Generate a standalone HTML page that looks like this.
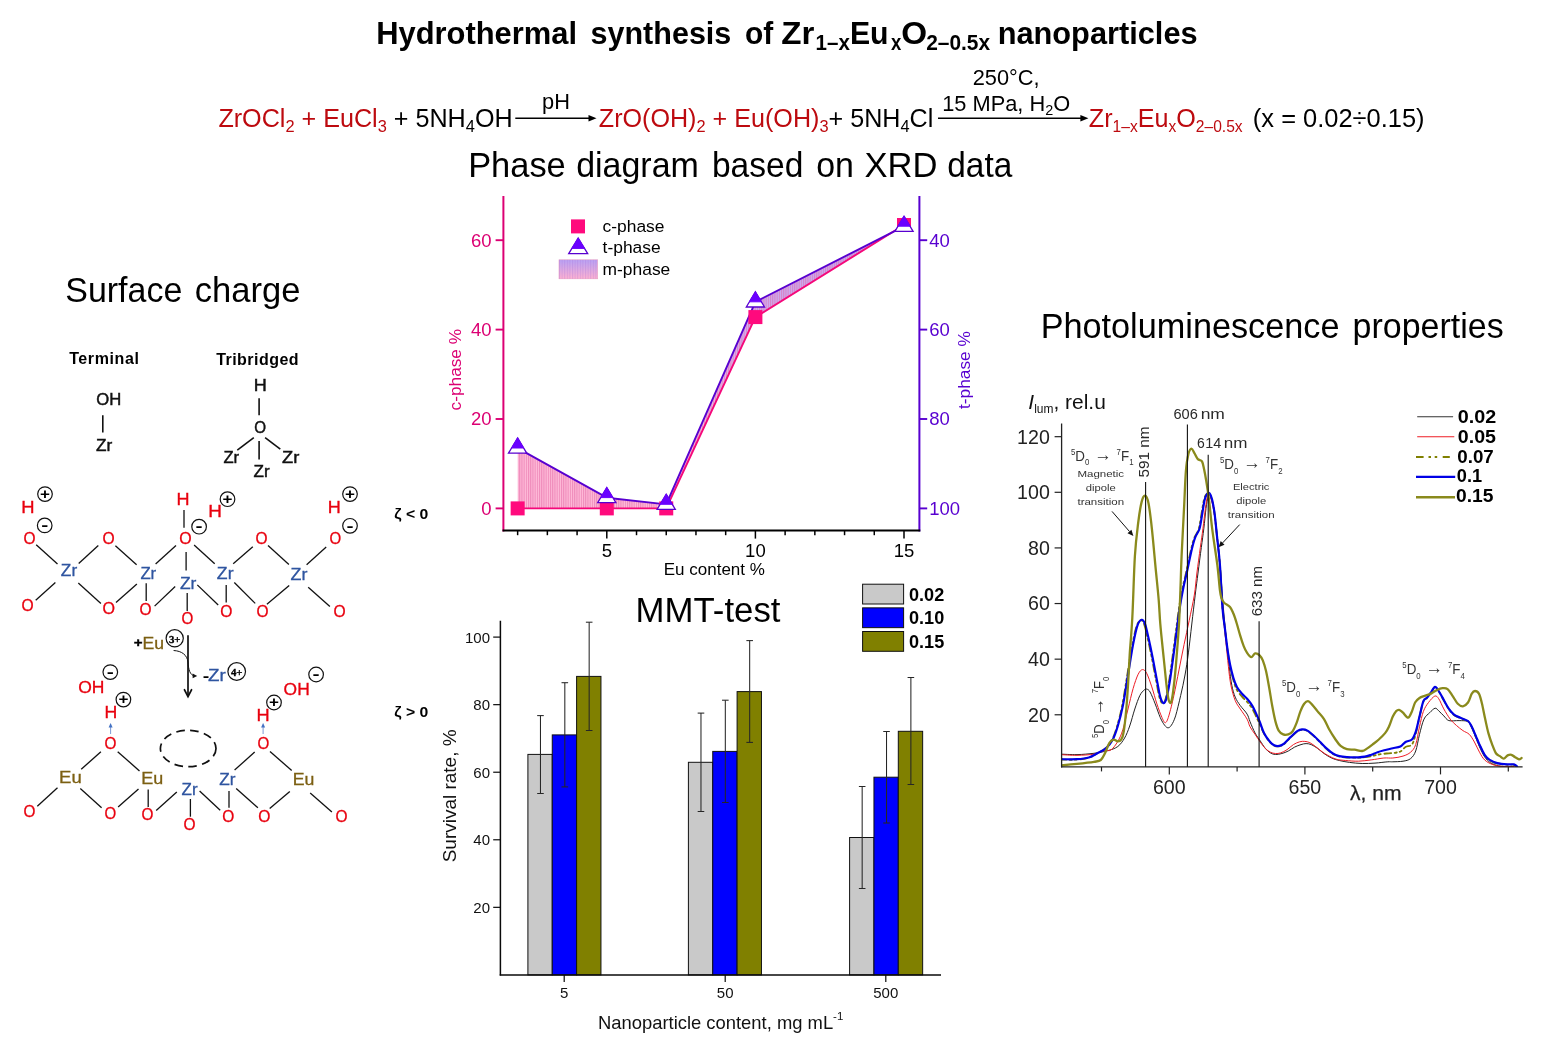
<!DOCTYPE html>
<html lang="en">
<head>
<meta charset="utf-8">
<title>Hydrothermal synthesis of Zr1-xEuxO2-0.5x nanoparticles</title>
<style>
html,body{margin:0;padding:0;background:#fff;}
body{width:1550px;height:1058px;overflow:hidden;}
svg{display:block;font-family:"Liberation Sans", sans-serif;}
svg text{white-space:pre;}
</style>
</head>
<body>
<svg width="1550" height="1058" viewBox="0 0 1550 1058">
<defs>
<linearGradient id="gm" x1="0" y1="0" x2="0" y2="1">
<stop offset="0" stop-color="#b9a3f5"/><stop offset="1" stop-color="#ffb3d1"/>
</linearGradient>
<linearGradient id="gph" x1="0" y1="0" x2="0" y2="1">
<stop offset="0" stop-color="#bca6f5"/><stop offset="0.45" stop-color="#d4b0f0"/><stop offset="0.8" stop-color="#ffbcda"/>
</linearGradient>
<pattern id="hatchL" width="2.2" height="8" patternUnits="userSpaceOnUse">
<line x1="0.6" y1="0" x2="0.6" y2="8" stroke="#e0609f" stroke-width="0.8" opacity="0.75"/>
</pattern>
<pattern id="hatchG" width="2.6" height="8" patternUnits="userSpaceOnUse">
<line x1="0.6" y1="0" x2="0.6" y2="8" stroke="#a06ad0" stroke-width="0.7" opacity="0.45"/>
</pattern>
</defs>
<rect width="1550" height="1058" fill="#fff"/>
<g id="header">
<text x="376.19" y="44.00" font-size="30.6" textLength="200.86" lengthAdjust="spacingAndGlyphs" font-weight="bold">Hydrothermal</text>
<text x="590.53" y="44.00" font-size="30.6" textLength="140.79" lengthAdjust="spacingAndGlyphs" font-weight="bold">synthesis</text>
<text x="745.00" y="44.00" font-size="30.6" textLength="28.27" lengthAdjust="spacingAndGlyphs" font-weight="bold">of</text>
<text x="781.31" y="44.00" font-size="30.6" textLength="33.09" lengthAdjust="spacingAndGlyphs" font-weight="bold">Zr</text>
<text x="815.57" y="50.20" font-size="22.4" textLength="34.31" lengthAdjust="spacingAndGlyphs" font-weight="bold">1–x</text>
<text x="849.94" y="44.00" font-size="30.6" textLength="38.62" lengthAdjust="spacingAndGlyphs" font-weight="bold">Eu</text>
<text x="891.01" y="50.20" font-size="22.4" textLength="10.30" lengthAdjust="spacingAndGlyphs" font-weight="bold">x</text>
<text x="901.27" y="44.00" font-size="30.6" textLength="25.85" lengthAdjust="spacingAndGlyphs" font-weight="bold">O</text>
<text x="926.17" y="50.20" font-size="22.4" textLength="63.91" lengthAdjust="spacingAndGlyphs" font-weight="bold">2–0.5x</text>
<text x="997.70" y="44.00" font-size="30.6" textLength="199.89" lengthAdjust="spacingAndGlyphs" font-weight="bold">nanoparticles</text>
<text x="218.40" y="127.30" font-size="25.15"><tspan fill="#bd0a0f">ZrOCl<tspan font-size="16.4" dy="5">2</tspan><tspan dy="-5" font-size="1">&#8203;</tspan> + EuCl<tspan font-size="16.4" dy="5">3</tspan><tspan dy="-5" font-size="1">&#8203;</tspan></tspan> + 5NH<tspan font-size="16.4" dy="5">4</tspan><tspan dy="-5" font-size="1">&#8203;</tspan>OH</text>
<text x="598.80" y="127.30" font-size="25.15" textLength="334.50" lengthAdjust="spacingAndGlyphs"><tspan fill="#bd0a0f">ZrO(OH)<tspan font-size="16.4" dy="5">2</tspan><tspan dy="-5" font-size="1">&#8203;</tspan> + Eu(OH)<tspan font-size="16.4" dy="5">3</tspan><tspan dy="-5" font-size="1">&#8203;</tspan></tspan>+ 5NH<tspan font-size="16.4" dy="5">4</tspan><tspan dy="-5" font-size="1">&#8203;</tspan>Cl</text>
<text x="1088.80" y="127.30" font-size="25.15"><tspan fill="#bd0a0f">Zr<tspan font-size="15.6" dy="5">1–x</tspan><tspan dy="-5" font-size="1">&#8203;</tspan>Eu<tspan font-size="15.6" dy="5">x</tspan><tspan dy="-5" font-size="1">&#8203;</tspan>O<tspan font-size="15.6" dy="5">2–0.5x</tspan><tspan dy="-5" font-size="1">&#8203;</tspan></tspan></text>
<text x="1252.87" y="127.30" font-size="25.3" textLength="171.71" lengthAdjust="spacingAndGlyphs">(x = 0.02÷0.15)</text>
<line x1="515.30" y1="118.20" x2="592.50" y2="118.20" stroke="#000" stroke-width="1.4" />
<path d="M596.5,118.2 L588.5,115.0 L588.5,121.4 Z" fill="#000"/>
<line x1="938.00" y1="118.20" x2="1084.40" y2="118.20" stroke="#000" stroke-width="1.4" />
<path d="M1088.4,118.2 L1080.4,115.0 L1080.4,121.4 Z" fill="#000"/>
<text x="556.00" y="109.00" font-size="21.8" text-anchor="middle">pH</text>
<text x="1006.20" y="84.60" font-size="21.8" text-anchor="middle">250°C,</text>
<text x="1006.20" y="111.00" font-size="21.8" text-anchor="middle">15 MPa, H<tspan font-size="14.4" dy="4">2</tspan><tspan dy="-4" font-size="1">&#8203;</tspan>O</text>
<text x="468.15" y="177.20" font-size="34.5" textLength="97.62" lengthAdjust="spacingAndGlyphs">Phase</text>
<text x="576.14" y="177.20" font-size="34.5" textLength="122.70" lengthAdjust="spacingAndGlyphs">diagram</text>
<text x="711.92" y="177.20" font-size="34.5" textLength="91.45" lengthAdjust="spacingAndGlyphs">based</text>
<text x="816.24" y="177.20" font-size="34.5" textLength="37.74" lengthAdjust="spacingAndGlyphs">on</text>
<text x="864.54" y="177.20" font-size="34.5" textLength="72.97" lengthAdjust="spacingAndGlyphs">XRD</text>
<text x="947.26" y="177.20" font-size="34.5" textLength="64.98" lengthAdjust="spacingAndGlyphs">data</text>
<text x="65.27" y="302.30" font-size="34.5" textLength="117.00" lengthAdjust="spacingAndGlyphs">Surface</text>
<text x="194.82" y="302.30" font-size="34.5" textLength="105.63" lengthAdjust="spacingAndGlyphs">charge</text>
<text x="1040.66" y="337.60" font-size="34.5" textLength="298.78" lengthAdjust="spacingAndGlyphs">Photoluminescence</text>
<text x="1352.59" y="337.60" font-size="34.5" textLength="151.06" lengthAdjust="spacingAndGlyphs">properties</text>
<text x="635.62" y="622.30" font-size="34.5" textLength="144.81" lengthAdjust="spacingAndGlyphs">MMT-test</text>
</g>
<g id="phase">
<clipPath id="cpm"><polygon points="517.6,448.1 606.8,497.7 666.2,504.4 755.4,301.9 904.0,226.3 904.0,225.0 755.4,317.1 666.2,508.4 606.8,508.4 517.6,508.4"/></clipPath>
<g clip-path="url(#cpm)">
<rect x="517.6" y="200" width="386.4" height="320" fill="#ffbcda"/>
<rect x="686.2" y="200" width="237.8" height="320" fill="url(#gph)"/>
<rect x="517.6" y="200" width="386.4" height="320" fill="url(#hatchL)"/>
</g>
<polyline points="517.6,508.4 606.8,508.4 666.2,508.4 755.4,317.1 904.0,225.0" fill="none" stroke="#f5087a" stroke-width="1.9" stroke-linejoin="round"/>
<polyline points="517.6,448.1 606.8,497.7 666.2,504.4 755.4,301.9 904.0,226.3" fill="none" stroke="#5800d0" stroke-width="1.9" stroke-linejoin="round"/>
<rect x="510.64" y="501.40" width="14.00" height="14.00" fill="#ff0a7d" />
<rect x="599.80" y="501.40" width="14.00" height="14.00" fill="#ff0a7d" />
<rect x="659.24" y="501.40" width="14.00" height="14.00" fill="#ff0a7d" />
<rect x="748.40" y="310.08" width="14.00" height="14.00" fill="#ff0a7d" />
<rect x="897.00" y="218.00" width="14.00" height="14.00" fill="#ff0a7d" />
<path d="M517.6,437.9 L526.7,453.1 L508.5,453.1 Z" fill="#fff" stroke="#5800d0" stroke-width="1.3" stroke-linejoin="miter"/>
<path d="M517.6,437.9 L523.6,448.0 L511.6,448.0 Z" fill="#6a00ff" stroke="#6a00ff" stroke-width="1"/>
<path d="M606.8,487.5 L615.9,502.7 L597.7,502.7 Z" fill="#fff" stroke="#5800d0" stroke-width="1.3" stroke-linejoin="miter"/>
<path d="M606.8,487.5 L612.8,497.6 L600.8,497.6 Z" fill="#6a00ff" stroke="#6a00ff" stroke-width="1"/>
<path d="M666.2,494.2 L675.3,509.4 L657.1,509.4 Z" fill="#fff" stroke="#5800d0" stroke-width="1.3" stroke-linejoin="miter"/>
<path d="M666.2,494.2 L672.2,504.3 L660.2,504.3 Z" fill="#6a00ff" stroke="#6a00ff" stroke-width="1"/>
<path d="M755.4,291.8 L764.5,307.0 L746.3,307.0 Z" fill="#fff" stroke="#5800d0" stroke-width="1.3" stroke-linejoin="miter"/>
<path d="M755.4,291.8 L761.4,301.8 L749.4,301.8 Z" fill="#6a00ff" stroke="#6a00ff" stroke-width="1"/>
<path d="M904.0,216.2 L913.1,231.4 L894.9,231.4 Z" fill="#fff" stroke="#5800d0" stroke-width="1.3" stroke-linejoin="miter"/>
<path d="M904.0,216.2 L910.0,226.2 L898.0,226.2 Z" fill="#6a00ff" stroke="#6a00ff" stroke-width="1"/>
<line x1="503.40" y1="196.00" x2="503.40" y2="531.50" stroke="#dc0073" stroke-width="2" />
<line x1="919.40" y1="196.00" x2="919.40" y2="531.50" stroke="#5800d0" stroke-width="2" />
<line x1="502.50" y1="530.60" x2="920.30" y2="530.60" stroke="#000" stroke-width="2" />
<line x1="495.60" y1="508.40" x2="503.40" y2="508.40" stroke="#dc0073" stroke-width="1.9" />
<text x="491.60" y="514.80" font-size="18.5" fill="#dc0073" text-anchor="end">0</text>
<line x1="495.60" y1="419.00" x2="503.40" y2="419.00" stroke="#dc0073" stroke-width="1.9" />
<text x="491.60" y="425.40" font-size="18.5" fill="#dc0073" text-anchor="end">20</text>
<line x1="495.60" y1="329.60" x2="503.40" y2="329.60" stroke="#dc0073" stroke-width="1.9" />
<text x="491.60" y="336.00" font-size="18.5" fill="#dc0073" text-anchor="end">40</text>
<line x1="495.60" y1="240.20" x2="503.40" y2="240.20" stroke="#dc0073" stroke-width="1.9" />
<text x="491.60" y="246.60" font-size="18.5" fill="#dc0073" text-anchor="end">60</text>
<line x1="919.40" y1="508.40" x2="927.20" y2="508.40" stroke="#5800d0" stroke-width="1.9" />
<text x="929.20" y="514.80" font-size="18.5" fill="#5800d0">100</text>
<line x1="919.40" y1="419.00" x2="927.20" y2="419.00" stroke="#5800d0" stroke-width="1.9" />
<text x="929.20" y="425.40" font-size="18.5" fill="#5800d0">80</text>
<line x1="919.40" y1="329.60" x2="927.20" y2="329.60" stroke="#5800d0" stroke-width="1.9" />
<text x="929.20" y="336.00" font-size="18.5" fill="#5800d0">60</text>
<line x1="919.40" y1="240.20" x2="927.20" y2="240.20" stroke="#5800d0" stroke-width="1.9" />
<text x="929.20" y="246.60" font-size="18.5" fill="#5800d0">40</text>
<line x1="517.64" y1="530.60" x2="517.64" y2="535.20" stroke="#000" stroke-width="1.5" />
<line x1="547.36" y1="530.60" x2="547.36" y2="535.20" stroke="#000" stroke-width="1.5" />
<line x1="577.08" y1="530.60" x2="577.08" y2="535.20" stroke="#000" stroke-width="1.5" />
<line x1="606.80" y1="530.60" x2="606.80" y2="538.60" stroke="#000" stroke-width="1.5" />
<text x="606.80" y="556.80" font-size="18.5" text-anchor="middle">5</text>
<line x1="636.52" y1="530.60" x2="636.52" y2="535.20" stroke="#000" stroke-width="1.5" />
<line x1="666.24" y1="530.60" x2="666.24" y2="535.20" stroke="#000" stroke-width="1.5" />
<line x1="695.96" y1="530.60" x2="695.96" y2="535.20" stroke="#000" stroke-width="1.5" />
<line x1="725.68" y1="530.60" x2="725.68" y2="535.20" stroke="#000" stroke-width="1.5" />
<line x1="755.40" y1="530.60" x2="755.40" y2="538.60" stroke="#000" stroke-width="1.5" />
<text x="755.40" y="556.80" font-size="18.5" text-anchor="middle">10</text>
<line x1="785.12" y1="530.60" x2="785.12" y2="535.20" stroke="#000" stroke-width="1.5" />
<line x1="814.84" y1="530.60" x2="814.84" y2="535.20" stroke="#000" stroke-width="1.5" />
<line x1="844.56" y1="530.60" x2="844.56" y2="535.20" stroke="#000" stroke-width="1.5" />
<line x1="874.28" y1="530.60" x2="874.28" y2="535.20" stroke="#000" stroke-width="1.5" />
<line x1="904.00" y1="530.60" x2="904.00" y2="538.60" stroke="#000" stroke-width="1.5" />
<text x="904.00" y="556.80" font-size="18.5" text-anchor="middle">15</text>
<text x="714.30" y="575.20" font-size="17" text-anchor="middle">Eu content %</text>
<text x="460.01" y="409.70" font-size="17.3" textLength="81.49" lengthAdjust="spacingAndGlyphs" fill="#dc0073" transform="rotate(-90 460.70 409.70)">c-phase %</text>
<text x="969.94" y="408.80" font-size="17.3" textLength="77.92" lengthAdjust="spacingAndGlyphs" fill="#5800d0" transform="rotate(-90 970.20 408.80)">t-phase %</text>
<rect x="571.00" y="219.40" width="14.00" height="14.00" fill="#ff0a7d" />
<path d="M578.2,238.1 L587.7,253.7 L568.7,253.7 Z" fill="#fff" stroke="#5800d0" stroke-width="1.3" stroke-linejoin="miter"/>
<path d="M578.2,238.1 L584.5,248.4 L571.9,248.4 Z" fill="#6a00ff" stroke="#6a00ff" stroke-width="1"/>
<rect x="559.00" y="259.80" width="38.70" height="19.00" fill="url(#gm)" stroke="#e9a0c4" stroke-width="0.6" />
<rect x="559.00" y="259.80" width="38.70" height="19.00" fill="url(#hatchG)" />
<text x="602.60" y="231.80" font-size="17.4">c-phase</text>
<text x="602.60" y="253.30" font-size="17.4">t-phase</text>
<text x="602.60" y="274.80" font-size="17.4">m-phase</text>
</g>
<g id="mmt">
<rect x="527.90" y="754.40" width="24.35" height="220.50" fill="#c9c9c9" stroke="#111" stroke-width="1" />
<rect x="552.25" y="734.90" width="24.35" height="240.00" fill="#0000fe" stroke="#111" stroke-width="1" />
<rect x="576.60" y="676.40" width="24.35" height="298.50" fill="#808000" stroke="#111" stroke-width="1" />
<line x1="540.47" y1="715.60" x2="540.47" y2="793.50" stroke="#262626" stroke-width="1.05" />
<line x1="537.17" y1="715.60" x2="543.77" y2="715.60" stroke="#262626" stroke-width="1.05" />
<line x1="537.17" y1="793.50" x2="543.77" y2="793.50" stroke="#262626" stroke-width="1.05" />
<line x1="564.82" y1="682.70" x2="564.82" y2="786.90" stroke="#262626" stroke-width="1.05" />
<line x1="561.52" y1="682.70" x2="568.12" y2="682.70" stroke="#262626" stroke-width="1.05" />
<line x1="561.52" y1="786.90" x2="568.12" y2="786.90" stroke="#262626" stroke-width="1.05" />
<line x1="589.17" y1="622.20" x2="589.17" y2="730.50" stroke="#262626" stroke-width="1.05" />
<line x1="585.88" y1="622.20" x2="592.47" y2="622.20" stroke="#262626" stroke-width="1.05" />
<line x1="585.88" y1="730.50" x2="592.47" y2="730.50" stroke="#262626" stroke-width="1.05" />
<rect x="688.40" y="762.30" width="24.35" height="212.60" fill="#c9c9c9" stroke="#111" stroke-width="1" />
<rect x="712.75" y="751.40" width="24.35" height="223.50" fill="#0000fe" stroke="#111" stroke-width="1" />
<rect x="737.10" y="691.60" width="24.35" height="283.30" fill="#808000" stroke="#111" stroke-width="1" />
<line x1="700.97" y1="713.10" x2="700.97" y2="811.50" stroke="#262626" stroke-width="1.05" />
<line x1="697.67" y1="713.10" x2="704.27" y2="713.10" stroke="#262626" stroke-width="1.05" />
<line x1="697.67" y1="811.50" x2="704.27" y2="811.50" stroke="#262626" stroke-width="1.05" />
<line x1="725.32" y1="700.20" x2="725.32" y2="802.50" stroke="#262626" stroke-width="1.05" />
<line x1="722.02" y1="700.20" x2="728.62" y2="700.20" stroke="#262626" stroke-width="1.05" />
<line x1="722.02" y1="802.50" x2="728.62" y2="802.50" stroke="#262626" stroke-width="1.05" />
<line x1="749.67" y1="640.60" x2="749.67" y2="742.40" stroke="#262626" stroke-width="1.05" />
<line x1="746.38" y1="640.60" x2="752.97" y2="640.60" stroke="#262626" stroke-width="1.05" />
<line x1="746.38" y1="742.40" x2="752.97" y2="742.40" stroke="#262626" stroke-width="1.05" />
<rect x="849.60" y="837.50" width="24.35" height="137.40" fill="#c9c9c9" stroke="#111" stroke-width="1" />
<rect x="873.95" y="777.20" width="24.35" height="197.70" fill="#0000fe" stroke="#111" stroke-width="1" />
<rect x="898.30" y="731.30" width="24.35" height="243.60" fill="#808000" stroke="#111" stroke-width="1" />
<line x1="862.17" y1="786.50" x2="862.17" y2="888.50" stroke="#262626" stroke-width="1.05" />
<line x1="858.88" y1="786.50" x2="865.47" y2="786.50" stroke="#262626" stroke-width="1.05" />
<line x1="858.88" y1="888.50" x2="865.47" y2="888.50" stroke="#262626" stroke-width="1.05" />
<line x1="886.52" y1="731.50" x2="886.52" y2="823.00" stroke="#262626" stroke-width="1.05" />
<line x1="883.23" y1="731.50" x2="889.82" y2="731.50" stroke="#262626" stroke-width="1.05" />
<line x1="883.23" y1="823.00" x2="889.82" y2="823.00" stroke="#262626" stroke-width="1.05" />
<line x1="910.88" y1="677.50" x2="910.88" y2="784.50" stroke="#262626" stroke-width="1.05" />
<line x1="907.58" y1="677.50" x2="914.17" y2="677.50" stroke="#262626" stroke-width="1.05" />
<line x1="907.58" y1="784.50" x2="914.17" y2="784.50" stroke="#262626" stroke-width="1.05" />
<line x1="500.40" y1="620.80" x2="500.40" y2="975.60" stroke="#0a0a0a" stroke-width="1.5" />
<line x1="499.70" y1="974.90" x2="941.00" y2="974.90" stroke="#0a0a0a" stroke-width="1.5" />
<line x1="493.20" y1="907.34" x2="500.40" y2="907.34" stroke="#0a0a0a" stroke-width="1.2" />
<text x="490.00" y="912.74" font-size="15" fill="#111" text-anchor="end">20</text>
<line x1="493.20" y1="839.78" x2="500.40" y2="839.78" stroke="#0a0a0a" stroke-width="1.2" />
<text x="490.00" y="845.18" font-size="15" fill="#111" text-anchor="end">40</text>
<line x1="493.20" y1="772.22" x2="500.40" y2="772.22" stroke="#0a0a0a" stroke-width="1.2" />
<text x="490.00" y="777.62" font-size="15" fill="#111" text-anchor="end">60</text>
<line x1="493.20" y1="704.66" x2="500.40" y2="704.66" stroke="#0a0a0a" stroke-width="1.2" />
<text x="490.00" y="710.06" font-size="15" fill="#111" text-anchor="end">80</text>
<line x1="493.20" y1="637.10" x2="500.40" y2="637.10" stroke="#0a0a0a" stroke-width="1.2" />
<text x="490.00" y="642.50" font-size="15" fill="#111" text-anchor="end">100</text>
<line x1="564.20" y1="974.90" x2="564.20" y2="981.90" stroke="#0a0a0a" stroke-width="1.2" />
<text x="564.20" y="998.20" font-size="15" fill="#111" text-anchor="middle">5</text>
<line x1="725.20" y1="974.90" x2="725.20" y2="981.90" stroke="#0a0a0a" stroke-width="1.2" />
<text x="725.20" y="998.20" font-size="15" fill="#111" text-anchor="middle">50</text>
<line x1="885.80" y1="974.90" x2="885.80" y2="981.90" stroke="#0a0a0a" stroke-width="1.2" />
<text x="885.80" y="998.20" font-size="15" fill="#111" text-anchor="middle">500</text>
<text x="598.00" y="1029.00" font-size="18.4" fill="#111">Nanoparticle content, mg mL<tspan font-size="11.5" dy="-8.6">-1</tspan></text>
<text x="454.75" y="861.50" font-size="18.4" textLength="132.97" lengthAdjust="spacingAndGlyphs" fill="#111" transform="rotate(-90 455.60 861.50)">Survival rate, %</text>
<rect x="862.60" y="584.20" width="41.00" height="19.80" fill="#c9c9c9" stroke="#111" stroke-width="1" />
<text x="909.00" y="600.50" font-size="17.5" font-weight="bold" textLength="35.20" lengthAdjust="spacingAndGlyphs">0.02</text>
<rect x="862.60" y="607.85" width="41.00" height="19.80" fill="#0000fe" stroke="#111" stroke-width="1" />
<text x="909.00" y="624.15" font-size="17.5" font-weight="bold" textLength="35.20" lengthAdjust="spacingAndGlyphs">0.10</text>
<rect x="862.60" y="631.50" width="41.00" height="19.80" fill="#808000" stroke="#111" stroke-width="1" />
<text x="909.00" y="647.80" font-size="17.5" font-weight="bold" textLength="35.20" lengthAdjust="spacingAndGlyphs">0.15</text>
</g>
<g id="pl">
<clipPath id="cpl"><rect x="1061" y="420" width="465" height="347"/></clipPath>
<g clip-path="url(#cpl)">
<path d="M1060.0,754.1C1062.8,754.2 1071.3,754.7 1077.0,754.6C1082.7,754.5 1088.9,753.9 1094.0,753.3C1099.1,752.6 1103.6,751.8 1107.6,750.7C1111.6,749.6 1115.0,748.6 1117.8,746.5C1120.6,744.4 1122.6,741.4 1124.6,738.0C1126.6,734.6 1128.0,730.8 1129.7,726.0C1131.4,721.2 1133.1,714.1 1134.8,709.0C1136.5,703.9 1138.3,698.6 1139.9,695.4C1141.5,692.2 1143.1,691.0 1144.2,690.0C1145.3,689.0 1145.7,688.8 1146.7,689.1C1147.7,689.4 1148.7,689.5 1150.1,692.0C1151.5,694.5 1153.5,699.6 1155.2,703.9C1156.9,708.2 1158.7,714.0 1160.3,717.6C1161.9,721.2 1163.3,723.5 1164.6,725.2C1165.9,726.9 1166.9,727.8 1168.0,727.8C1169.1,727.8 1170.1,727.2 1171.4,725.2C1172.7,723.2 1174.0,720.9 1175.6,715.9C1177.1,710.9 1179.1,702.2 1180.7,695.4C1182.3,688.6 1183.7,682.1 1185.0,675.0C1186.3,667.9 1187.3,661.4 1188.4,652.9C1189.5,644.4 1190.7,633.6 1191.8,624.0C1192.9,614.4 1194.2,603.6 1195.2,595.1C1196.2,586.6 1197.0,580.9 1198.0,573.0C1199.0,565.1 1200.3,555.0 1201.3,547.6C1202.3,540.2 1203.0,535.3 1203.8,528.8C1204.6,522.3 1205.3,513.7 1206.0,508.4C1206.7,503.1 1207.3,499.1 1208.0,497.0C1208.7,494.9 1209.2,494.5 1210.0,495.5C1210.8,496.5 1211.7,499.2 1212.6,503.0C1213.5,506.8 1214.3,511.7 1215.2,518.0C1216.1,524.3 1216.9,532.8 1217.7,541.0C1218.5,549.2 1219.4,556.0 1220.3,567.0C1221.2,578.0 1222.3,594.7 1223.3,607.0C1224.3,619.3 1225.5,631.1 1226.5,641.0C1227.5,650.9 1228.3,659.1 1229.2,666.5C1230.1,673.9 1230.8,680.1 1231.8,685.2C1232.8,690.3 1233.8,693.7 1235.2,697.1C1236.6,700.5 1238.3,702.8 1240.3,705.6C1242.3,708.4 1245.5,711.4 1247.1,714.1C1248.7,716.8 1248.7,718.4 1250.0,721.6C1251.3,724.8 1253.4,729.9 1255.1,733.1C1256.8,736.3 1258.5,738.2 1260.2,740.8C1261.9,743.3 1263.6,746.4 1265.3,748.4C1267.0,750.4 1268.7,751.9 1270.4,752.9C1272.1,753.9 1273.6,754.4 1275.5,754.5C1277.4,754.6 1279.8,754.1 1281.9,753.5C1284.0,752.9 1286.2,752.1 1288.3,751.0C1290.4,749.9 1292.5,748.2 1294.6,747.1C1296.7,746.0 1299.1,745.2 1301.0,744.6C1302.9,744.0 1304.4,743.6 1306.1,743.6C1307.8,743.6 1309.3,743.8 1311.2,744.6C1313.1,745.4 1315.5,746.9 1317.6,748.4C1319.7,749.9 1321.7,751.9 1324.0,753.5C1326.3,755.1 1329.0,756.8 1331.6,758.0C1334.1,759.2 1336.3,759.8 1339.3,760.5C1342.3,761.2 1345.7,761.9 1349.5,762.4C1353.3,762.9 1358.0,763.4 1362.2,763.5C1366.5,763.6 1370.7,763.4 1375.0,763.1C1379.3,762.8 1384.8,762.0 1387.8,761.8C1390.8,761.6 1390.3,761.9 1392.8,761.8C1395.3,761.7 1400.0,761.7 1403.0,761.2C1406.0,760.7 1408.5,760.3 1410.6,758.6C1412.7,756.9 1414.2,755.0 1415.7,751.0C1417.2,747.0 1418.1,739.7 1419.5,734.4C1420.9,729.1 1422.3,722.7 1424.0,719.1C1425.7,715.5 1427.9,714.5 1429.7,712.7C1431.5,710.9 1433.6,708.5 1435.1,708.2C1436.6,707.9 1437.2,709.5 1438.7,710.8C1440.2,712.1 1442.1,714.3 1443.8,715.9C1445.5,717.5 1446.4,719.8 1448.9,720.6C1451.5,721.4 1455.9,720.4 1459.1,720.6C1462.3,720.8 1465.9,720.4 1468.0,721.6C1470.1,722.8 1470.5,725.4 1471.8,728.0C1473.1,730.6 1474.2,733.9 1475.7,737.5C1477.2,741.1 1479.1,746.2 1480.8,749.7C1482.5,753.2 1484.0,756.3 1485.9,758.6C1487.8,760.9 1489.7,762.4 1492.2,763.7C1494.8,765.0 1497.6,765.8 1501.2,766.3C1504.8,766.8 1511.8,766.5 1513.9,766.5" fill="none" stroke="#222" stroke-width="1" stroke-linejoin="round" stroke-linecap="round" />
<path d="M1060.0,754.6C1062.8,754.7 1071.3,755.4 1077.0,755.3C1082.7,755.2 1089.5,754.9 1094.0,754.1C1098.5,753.3 1101.4,751.4 1104.2,750.7C1107.0,750.0 1108.7,751.5 1111.0,749.9C1113.3,748.3 1115.8,744.8 1117.8,741.4C1119.8,738.0 1121.2,734.9 1122.9,729.5C1124.6,724.1 1126.3,715.8 1128.0,709.0C1129.7,702.2 1131.4,694.4 1133.1,688.6C1134.8,682.8 1136.6,677.4 1138.2,674.2C1139.8,671.0 1141.1,669.8 1142.5,669.6C1143.9,669.5 1145.2,670.4 1146.7,673.3C1148.2,676.2 1150.1,681.8 1151.8,686.9C1153.5,692.0 1155.2,698.8 1156.9,703.9C1158.6,709.0 1160.6,714.5 1162.0,717.6C1163.4,720.7 1164.3,723.0 1165.4,722.7C1166.5,722.4 1167.4,720.5 1168.8,715.9C1170.2,711.3 1172.2,703.1 1173.9,695.4C1175.6,687.7 1177.3,678.4 1179.0,669.9C1180.7,661.4 1182.4,652.6 1184.1,644.4C1185.8,636.2 1187.5,628.8 1189.2,620.6C1190.9,612.4 1193.0,603.0 1194.3,595.1C1195.6,587.2 1195.9,580.9 1196.9,573.0C1197.9,565.1 1199.3,555.0 1200.3,547.6C1201.3,540.2 1202.1,535.3 1202.9,528.8C1203.8,522.3 1204.6,513.8 1205.4,508.4C1206.2,503.0 1206.8,498.6 1207.5,496.5C1208.2,494.4 1208.8,494.4 1209.6,495.5C1210.4,496.6 1211.3,499.2 1212.2,503.0C1213.1,506.8 1214.0,511.7 1214.8,518.0C1215.6,524.3 1216.4,532.8 1217.3,541.0C1218.2,549.2 1219.1,556.0 1219.9,567.0C1220.8,578.0 1221.4,594.7 1222.4,607.0C1223.4,619.3 1224.8,631.1 1225.8,641.0C1226.8,650.9 1227.6,659.1 1228.4,666.5C1229.2,673.9 1229.8,679.5 1230.9,685.2C1232.0,690.9 1233.6,696.5 1235.2,700.5C1236.8,704.5 1238.3,705.9 1240.3,709.0C1242.3,712.1 1245.5,716.2 1247.1,719.2C1248.7,722.2 1248.7,724.2 1250.0,726.7C1251.3,729.2 1253.4,731.9 1255.1,734.4C1256.8,736.9 1258.5,739.7 1260.2,742.0C1261.9,744.3 1263.6,746.7 1265.3,748.4C1267.0,750.1 1268.7,751.4 1270.4,752.2C1272.1,753.1 1273.8,753.4 1275.5,753.5C1277.2,753.6 1278.7,753.5 1280.6,752.9C1282.5,752.3 1284.9,751.1 1287.0,749.7C1289.1,748.3 1291.3,745.9 1293.4,744.6C1295.5,743.3 1297.8,742.3 1299.7,741.8C1301.6,741.3 1303.1,741.2 1304.8,741.4C1306.5,741.5 1308.0,741.8 1309.9,742.7C1311.8,743.7 1314.2,745.5 1316.3,747.1C1318.4,748.7 1320.6,750.7 1322.7,752.2C1324.8,753.7 1326.8,754.9 1329.1,756.1C1331.4,757.3 1333.9,758.6 1336.7,759.3C1339.5,760.0 1342.1,760.2 1345.7,760.5C1349.3,760.8 1354.2,761.3 1358.4,761.2C1362.7,761.1 1367.0,760.4 1371.2,759.9C1375.5,759.4 1380.3,758.3 1383.9,758.0C1387.5,757.7 1389.6,758.3 1392.8,758.0C1396.0,757.7 1400.0,757.1 1403.0,756.1C1406.0,755.1 1408.5,754.1 1410.6,752.2C1412.7,750.3 1414.2,748.9 1415.7,744.6C1417.2,740.4 1418.2,732.2 1419.5,726.7C1420.8,721.2 1421.9,715.4 1423.4,711.4C1424.9,707.4 1426.6,705.0 1428.5,702.5C1430.4,700.0 1433.1,696.7 1434.8,696.1C1436.5,695.5 1437.2,696.6 1438.7,698.7C1440.2,700.8 1441.9,705.5 1443.8,708.9C1445.7,712.3 1448.1,716.3 1450.2,719.1C1452.3,721.9 1454.4,723.6 1456.5,725.5C1458.6,727.4 1460.8,729.1 1462.9,730.6C1465.0,732.1 1467.4,732.5 1469.3,734.4C1471.2,736.3 1472.7,739.0 1474.4,742.0C1476.1,745.0 1477.8,749.2 1479.5,752.2C1481.2,755.2 1482.5,757.9 1484.6,759.9C1486.7,761.9 1489.4,763.3 1492.2,764.4C1495.0,765.5 1497.6,765.9 1501.2,766.3C1504.8,766.6 1511.8,766.5 1513.9,766.5" fill="none" stroke="#ee1c25" stroke-width="1" stroke-linejoin="round" stroke-linecap="round" />
<path d="M1059.2,759.6C1062.0,759.6 1071.4,759.9 1076.2,759.6C1081.0,759.3 1084.7,758.9 1088.1,757.9C1091.5,756.9 1093.8,755.2 1096.6,753.7C1099.4,752.1 1102.6,750.9 1105.1,748.6C1107.7,746.3 1109.9,743.8 1111.9,740.1C1113.9,736.4 1115.3,732.1 1117.0,726.4C1118.7,720.7 1120.4,714.5 1122.1,706.0C1123.8,697.5 1125.5,685.6 1127.2,675.4C1128.9,665.2 1130.7,653.0 1132.3,644.8C1133.9,636.6 1135.2,630.2 1136.6,626.1C1138.0,622.0 1139.5,620.5 1140.8,620.2C1142.1,619.9 1143.1,621.4 1144.2,624.4C1145.3,627.4 1146.3,632.3 1147.6,638.0C1148.9,643.7 1150.5,651.3 1151.9,658.4C1153.3,665.5 1154.8,674.0 1156.1,680.5C1157.4,687.0 1158.4,693.7 1159.5,697.5C1160.6,701.3 1161.6,703.2 1162.6,703.5C1163.6,703.8 1164.5,702.8 1165.5,699.2C1166.5,695.6 1167.8,689.0 1168.9,682.2C1170.0,675.4 1171.2,666.6 1172.3,658.4C1173.4,650.2 1174.6,641.4 1175.7,632.9C1176.8,624.4 1178.0,614.8 1179.1,607.4C1180.2,600.0 1181.4,594.1 1182.5,588.4C1183.6,582.7 1184.5,579.9 1185.9,573.4C1187.3,566.9 1189.6,555.6 1191.0,549.7C1192.4,543.7 1193.1,541.1 1194.4,537.7C1195.7,534.3 1197.6,532.9 1198.7,529.2C1199.8,525.5 1200.4,520.4 1201.2,515.6C1202.0,510.8 1203.0,503.9 1203.8,500.4C1204.6,496.9 1205.4,495.5 1206.3,494.4C1207.2,493.3 1207.9,492.9 1208.9,493.9C1209.9,494.9 1211.2,496.8 1212.2,500.4C1213.2,504.0 1214.0,509.1 1214.8,515.6C1215.6,522.1 1216.4,531.2 1217.3,539.4C1218.2,547.6 1219.1,553.7 1219.9,565.0C1220.8,576.3 1221.6,596.6 1222.4,607.4C1223.2,618.1 1224.2,622.4 1225.0,629.5C1225.8,636.6 1226.7,643.8 1227.5,649.9C1228.3,656.0 1229.1,660.8 1230.1,665.9C1231.1,671.0 1232.4,676.6 1233.5,680.6C1234.6,684.6 1235.5,687.2 1236.9,689.9C1238.3,692.6 1240.3,694.7 1242.0,696.7C1243.7,698.7 1245.4,699.8 1247.1,701.8C1248.8,703.8 1250.8,706.3 1252.2,708.6C1253.6,710.9 1254.4,712.9 1255.6,715.4C1256.8,717.9 1258.2,720.8 1259.6,723.8C1261.0,726.8 1262.4,730.6 1264.0,733.5C1265.6,736.4 1267.4,739.2 1269.1,741.2C1270.8,743.2 1272.5,744.8 1274.2,745.6C1275.9,746.5 1277.6,746.6 1279.3,746.3C1281.0,746.0 1282.5,745.2 1284.4,743.7C1286.3,742.2 1288.7,739.3 1290.8,737.3C1292.9,735.3 1295.3,732.9 1297.2,731.6C1299.1,730.3 1300.6,729.8 1302.3,729.7C1304.0,729.6 1305.5,729.9 1307.4,731.0C1309.3,732.1 1311.7,734.2 1313.8,736.1C1315.9,738.0 1318.1,740.3 1320.2,742.4C1322.3,744.5 1324.4,746.9 1326.5,748.8C1328.6,750.7 1330.8,752.6 1332.9,753.9C1335.0,755.2 1337.0,755.9 1339.3,756.5C1341.6,757.1 1343.7,757.3 1346.9,757.5C1350.1,757.7 1355.4,757.7 1358.4,757.7C1361.4,757.7 1362.7,757.5 1364.8,757.2C1366.9,757.0 1369.1,756.7 1371.2,756.3C1373.3,755.9 1375.1,755.1 1377.6,754.7C1380.1,754.2 1383.9,753.8 1386.4,753.5C1388.9,753.3 1390.5,753.4 1392.8,753.0C1395.1,752.7 1398.3,752.5 1400.4,751.5C1402.5,750.5 1403.6,748.2 1405.5,747.0C1407.4,745.8 1410.2,746.7 1411.9,744.5C1413.6,742.3 1414.4,738.6 1415.7,734.0C1417.0,729.4 1418.2,722.3 1419.5,716.9C1420.8,711.5 1422.1,704.8 1423.4,701.6C1424.7,698.4 1425.9,699.3 1427.2,697.8C1428.5,696.3 1429.7,694.4 1431.0,692.7C1432.3,690.9 1433.8,687.5 1435.1,687.3C1436.4,687.1 1437.2,689.2 1438.7,691.4C1440.2,693.6 1442.1,697.4 1443.8,700.4C1445.5,703.4 1447.2,706.9 1448.9,709.3C1450.6,711.7 1452.1,713.5 1454.0,715.0C1455.9,716.5 1458.1,717.1 1460.4,718.2C1462.7,719.3 1466.1,719.9 1468.0,721.4C1469.9,722.9 1470.5,724.6 1471.8,727.1C1473.1,729.6 1474.4,733.1 1475.7,736.1C1477.0,739.1 1478.0,741.8 1479.5,745.0C1481.0,748.2 1482.9,752.6 1484.6,755.2C1486.3,757.7 1487.6,758.9 1489.7,760.3C1491.8,761.7 1494.3,762.8 1497.3,763.5C1500.3,764.2 1504.8,764.6 1507.6,764.8C1510.4,765.0 1512.3,764.4 1513.9,764.8C1515.5,765.1 1516.6,766.5 1517.1,766.9" fill="none" stroke="#808000" stroke-width="1.8" stroke-linejoin="round" stroke-linecap="round" stroke-dasharray="7 3.5 2 3 2 3.5"/>
<path d="M1060.0,759.2C1062.8,759.2 1072.2,759.5 1077.0,759.2C1081.8,758.9 1085.5,758.5 1088.9,757.5C1092.3,756.5 1094.6,754.8 1097.4,753.3C1100.2,751.8 1103.4,750.5 1105.9,748.2C1108.5,745.9 1110.7,743.4 1112.7,739.7C1114.7,736.0 1116.1,731.7 1117.8,726.0C1119.5,720.3 1121.2,714.1 1122.9,705.6C1124.6,697.1 1126.3,685.2 1128.0,675.0C1129.7,664.8 1131.5,652.6 1133.1,644.4C1134.7,636.2 1136.0,629.8 1137.4,625.7C1138.8,621.6 1140.3,620.1 1141.6,619.8C1142.9,619.5 1143.9,621.0 1145.0,624.0C1146.1,627.0 1147.1,631.9 1148.4,637.6C1149.7,643.3 1151.3,650.9 1152.7,658.0C1154.1,665.1 1155.6,673.6 1156.9,680.1C1158.2,686.6 1159.2,693.3 1160.3,697.1C1161.4,700.9 1162.4,702.8 1163.4,703.1C1164.4,703.4 1165.2,702.3 1166.3,698.8C1167.3,695.2 1168.6,688.6 1169.7,681.8C1170.8,675.0 1172.0,666.2 1173.1,658.0C1174.2,649.8 1175.4,641.0 1176.5,632.5C1177.6,624.0 1178.8,614.4 1179.9,607.0C1181.0,599.6 1182.2,593.7 1183.3,588.0C1184.4,582.3 1185.3,579.5 1186.7,573.0C1188.1,566.5 1190.4,555.2 1191.8,549.3C1193.2,543.3 1193.9,540.7 1195.2,537.3C1196.5,533.9 1198.4,532.5 1199.5,528.8C1200.6,525.1 1201.2,520.0 1202.0,515.2C1202.8,510.4 1203.8,503.5 1204.6,500.0C1205.4,496.5 1206.2,495.1 1207.1,494.0C1207.9,492.9 1208.8,492.5 1209.7,493.5C1210.6,494.5 1211.4,496.4 1212.2,500.0C1213.0,503.6 1214.0,508.7 1214.8,515.2C1215.6,521.7 1216.4,530.8 1217.3,539.0C1218.2,547.2 1219.1,553.3 1219.9,564.6C1220.8,575.9 1221.6,596.2 1222.4,607.0C1223.2,617.8 1224.2,622.0 1225.0,629.1C1225.8,636.2 1226.7,643.5 1227.5,649.5C1228.3,655.5 1229.1,660.0 1230.1,664.8C1231.1,669.6 1232.4,674.7 1233.5,678.4C1234.6,682.1 1235.5,684.3 1236.9,686.9C1238.3,689.5 1240.3,691.7 1242.0,693.7C1243.7,695.7 1245.4,696.8 1247.1,698.8C1248.8,700.8 1250.8,703.3 1252.2,705.6C1253.6,707.9 1254.4,709.8 1255.6,712.4C1256.8,715.0 1258.2,718.0 1259.6,721.5C1261.0,725.0 1262.4,729.9 1264.0,733.1C1265.6,736.3 1267.4,738.8 1269.1,740.8C1270.8,742.8 1272.5,744.4 1274.2,745.2C1275.9,746.1 1277.6,746.2 1279.3,745.9C1281.0,745.6 1282.5,744.8 1284.4,743.3C1286.3,741.8 1288.7,738.9 1290.8,736.9C1292.9,734.9 1295.3,732.5 1297.2,731.2C1299.1,729.9 1300.6,729.4 1302.3,729.3C1304.0,729.2 1305.5,729.5 1307.4,730.6C1309.3,731.7 1311.7,733.8 1313.8,735.7C1315.9,737.6 1318.1,739.9 1320.2,742.0C1322.3,744.1 1324.4,746.5 1326.5,748.4C1328.6,750.3 1330.8,752.2 1332.9,753.5C1335.0,754.8 1337.0,755.5 1339.3,756.1C1341.6,756.7 1343.7,756.9 1346.9,757.1C1350.1,757.3 1355.4,757.4 1358.4,757.3C1361.4,757.2 1362.7,757.1 1364.8,756.7C1366.9,756.3 1369.1,755.5 1371.2,754.8C1373.3,754.0 1375.1,753.1 1377.6,752.2C1380.1,751.4 1383.9,750.4 1386.4,749.7C1388.9,749.0 1390.5,748.7 1392.8,748.2C1395.1,747.7 1398.3,747.5 1400.4,746.5C1402.5,745.5 1403.6,743.2 1405.5,742.0C1407.4,740.8 1410.2,741.2 1411.9,739.5C1413.6,737.8 1414.4,735.6 1415.7,731.8C1417.0,728.0 1418.2,721.6 1419.5,716.5C1420.8,711.4 1422.1,704.4 1423.4,701.2C1424.7,698.0 1425.9,698.9 1427.2,697.4C1428.5,695.9 1429.7,694.0 1431.0,692.3C1432.3,690.5 1433.8,687.1 1435.1,686.9C1436.4,686.7 1437.2,688.8 1438.7,691.0C1440.2,693.2 1442.1,697.0 1443.8,700.0C1445.5,703.0 1447.2,706.5 1448.9,708.9C1450.6,711.3 1452.1,713.1 1454.0,714.6C1455.9,716.1 1458.1,716.7 1460.4,717.8C1462.7,718.9 1466.1,719.5 1468.0,721.0C1469.9,722.5 1470.5,724.2 1471.8,726.7C1473.1,729.2 1474.4,732.7 1475.7,735.7C1477.0,738.7 1478.0,741.4 1479.5,744.6C1481.0,747.8 1482.9,752.2 1484.6,754.8C1486.3,757.3 1487.6,758.5 1489.7,759.9C1491.8,761.3 1494.3,762.4 1497.3,763.1C1500.3,763.9 1504.8,764.2 1507.6,764.4C1510.4,764.6 1512.3,764.0 1513.9,764.4C1515.5,764.8 1516.6,766.1 1517.1,766.5" fill="none" stroke="#0000e6" stroke-width="2.2" stroke-linejoin="round" stroke-linecap="round" />
<path d="M1060.0,765.6C1062.8,765.3 1071.3,764.4 1077.0,763.8C1082.7,763.2 1090.0,762.4 1094.0,761.8C1098.0,761.2 1099.0,761.4 1100.8,760.0C1102.6,758.6 1103.6,756.1 1105.0,753.3C1106.4,750.5 1107.9,745.3 1109.3,743.0C1110.7,740.7 1112.2,740.0 1113.6,739.7C1115.0,739.4 1116.5,741.4 1117.8,741.4C1119.1,741.4 1120.2,741.4 1121.2,739.7C1122.2,738.0 1123.0,736.3 1123.8,731.2C1124.6,726.1 1125.6,716.7 1126.3,709.0C1127.0,701.3 1127.4,694.3 1128.0,685.2C1128.6,676.1 1129.0,665.8 1129.7,654.6C1130.4,643.4 1131.4,634.4 1132.3,618.0C1133.2,601.6 1133.9,572.0 1134.9,556.0C1135.9,540.0 1137.2,531.1 1138.3,522.0C1139.4,512.9 1140.6,506.0 1141.7,501.6C1142.8,497.2 1144.0,495.4 1145.1,495.7C1146.2,496.0 1147.4,497.8 1148.5,503.3C1149.6,508.8 1150.8,518.6 1151.9,528.8C1153.0,539.0 1154.2,552.7 1155.3,564.6C1156.4,576.5 1157.9,590.1 1158.7,600.0C1159.5,609.9 1159.5,614.3 1160.3,624.0C1161.1,633.7 1162.7,648.1 1163.7,658.0C1164.7,667.9 1165.5,676.4 1166.3,683.5C1167.1,690.6 1167.9,697.5 1168.8,700.5C1169.7,703.5 1170.6,703.9 1171.4,701.4C1172.2,698.9 1173.1,692.4 1173.9,685.2C1174.8,678.0 1175.7,668.2 1176.5,658.0C1177.3,647.8 1178.3,636.2 1179.0,624.0C1179.7,611.8 1180.2,596.3 1180.6,585.0C1181.0,573.7 1181.0,569.3 1181.6,556.0C1182.2,542.7 1183.5,519.2 1184.2,505.0C1184.9,490.8 1185.2,479.5 1185.9,471.0C1186.6,462.5 1187.5,457.7 1188.4,454.0C1189.3,450.3 1190.5,448.7 1191.5,448.6C1192.5,448.5 1193.4,451.4 1194.4,453.2C1195.5,454.9 1196.5,457.8 1197.8,459.1C1199.1,460.5 1201.0,459.6 1202.0,461.3C1203.0,463.0 1203.4,466.0 1204.1,469.3C1204.8,472.6 1205.5,476.4 1206.3,481.2C1207.1,486.0 1207.8,490.3 1208.8,498.2C1209.8,506.1 1210.8,517.7 1212.2,528.8C1213.6,539.9 1216.0,554.4 1217.3,564.6C1218.6,574.8 1219.2,584.4 1219.9,590.0C1220.6,595.6 1220.9,596.4 1221.6,598.5C1222.3,600.6 1222.7,601.4 1224.1,602.8C1225.5,604.2 1228.4,605.2 1230.0,607.0C1231.6,608.8 1232.3,611.0 1233.5,613.8C1234.7,616.6 1235.8,620.3 1236.9,624.0C1238.0,627.7 1239.2,632.2 1240.3,635.9C1241.4,639.6 1242.6,643.3 1243.7,646.1C1244.8,648.9 1245.8,651.0 1247.1,652.9C1248.4,654.8 1250.0,657.1 1251.3,657.2C1252.6,657.3 1253.7,653.7 1255.1,653.4C1256.5,653.1 1258.3,654.1 1259.6,655.3C1260.9,656.5 1261.8,657.8 1262.8,660.4C1263.8,663.0 1264.9,666.1 1265.9,670.6C1267.0,675.1 1268.0,681.2 1269.1,687.2C1270.2,693.2 1271.2,700.6 1272.3,706.3C1273.4,712.0 1274.4,717.5 1275.5,721.6C1276.6,725.7 1277.4,728.5 1278.7,730.6C1280.0,732.7 1281.6,733.8 1283.2,734.4C1284.8,735.0 1286.7,734.9 1288.3,734.4C1289.9,733.9 1291.3,733.1 1292.7,731.2C1294.1,729.3 1295.3,726.2 1296.6,722.9C1297.9,719.6 1299.1,714.6 1300.4,711.4C1301.7,708.2 1302.9,705.5 1304.2,703.8C1305.5,702.1 1306.7,701.1 1308.0,701.2C1309.3,701.3 1310.3,702.7 1311.9,704.4C1313.5,706.1 1315.6,708.9 1317.6,711.4C1319.6,713.9 1322.1,716.1 1324.0,719.1C1325.9,722.1 1327.2,725.9 1329.1,729.3C1331.0,732.7 1333.6,736.7 1335.5,739.5C1337.4,742.3 1338.7,744.3 1340.6,745.9C1342.5,747.5 1344.6,748.5 1346.9,749.1C1349.2,749.7 1352.0,749.4 1354.6,749.7C1357.1,750.0 1360.1,751.2 1362.2,751.0C1364.3,750.8 1365.6,749.5 1367.3,748.4C1369.0,747.3 1370.5,746.1 1372.4,744.6C1374.3,743.1 1376.7,741.4 1378.8,739.5C1380.9,737.6 1383.4,735.2 1385.1,733.1C1386.8,731.0 1387.6,729.5 1388.9,726.7C1390.2,723.9 1391.6,719.0 1392.8,716.5C1394.0,714.0 1394.9,712.5 1395.9,711.4C1397.0,710.3 1397.9,709.7 1399.1,709.9C1400.3,710.1 1401.5,711.4 1403.0,712.7C1404.5,714.0 1406.6,717.8 1408.1,717.6C1409.6,717.4 1410.7,713.9 1411.9,711.4C1413.1,708.9 1413.8,704.7 1415.1,702.5C1416.4,700.3 1417.9,699.1 1419.5,698.0C1421.1,696.9 1422.7,696.6 1424.6,695.9C1426.5,695.2 1428.9,694.6 1431.0,693.6C1433.1,692.6 1435.5,690.6 1437.4,689.7C1439.3,688.8 1440.8,688.3 1442.5,688.2C1444.2,688.1 1445.9,687.8 1447.6,689.1C1449.3,690.4 1451.0,693.7 1452.7,696.1C1454.4,698.5 1456.1,702.1 1457.8,703.8C1459.5,705.5 1461.2,706.5 1462.9,706.3C1464.6,706.1 1466.5,704.6 1468.0,702.5C1469.5,700.4 1470.6,695.5 1471.8,693.6C1473.0,691.7 1473.8,691.0 1475.0,691.0C1476.2,691.0 1477.7,691.5 1478.9,693.6C1480.1,695.7 1481.0,699.5 1482.0,703.8C1483.0,708.0 1484.1,714.2 1485.2,719.1C1486.3,724.0 1487.2,728.9 1488.4,733.1C1489.6,737.4 1490.9,741.2 1492.2,744.6C1493.5,748.0 1494.8,751.6 1496.1,753.5C1497.4,755.4 1498.6,755.2 1499.9,756.1C1501.2,757.0 1502.4,758.7 1503.7,758.6C1505.0,758.5 1506.3,756.0 1507.6,755.4C1508.9,754.8 1510.1,754.5 1511.4,754.8C1512.7,755.1 1513.9,756.5 1515.2,757.3C1516.5,758.0 1517.9,759.2 1519.0,759.3C1520.1,759.4 1521.2,758.2 1521.6,758.0" fill="none" stroke="#8a8a1c" stroke-width="2.3" stroke-linejoin="round" stroke-linecap="round" />
</g>
<line x1="1145.60" y1="482.00" x2="1145.60" y2="766.90" stroke="#111" stroke-width="1.1" />
<line x1="1187.40" y1="424.40" x2="1187.40" y2="766.90" stroke="#111" stroke-width="1.1" />
<line x1="1208.20" y1="454.70" x2="1208.20" y2="766.90" stroke="#111" stroke-width="1.1" />
<line x1="1259.10" y1="621.30" x2="1259.10" y2="766.90" stroke="#111" stroke-width="1.1" />
<line x1="1061.60" y1="423.50" x2="1061.60" y2="767.50" stroke="#222" stroke-width="1.3" />
<line x1="1061.00" y1="766.90" x2="1522.60" y2="766.90" stroke="#222" stroke-width="1.3" />
<line x1="1054.60" y1="714.78" x2="1061.60" y2="714.78" stroke="#222" stroke-width="1.2" />
<text x="1049.80" y="721.68" font-size="19.6" fill="#222" text-anchor="end">20</text>
<line x1="1054.60" y1="659.16" x2="1061.60" y2="659.16" stroke="#222" stroke-width="1.2" />
<text x="1049.80" y="666.06" font-size="19.6" fill="#222" text-anchor="end">40</text>
<line x1="1054.60" y1="603.54" x2="1061.60" y2="603.54" stroke="#222" stroke-width="1.2" />
<text x="1049.80" y="610.44" font-size="19.6" fill="#222" text-anchor="end">60</text>
<line x1="1054.60" y1="547.92" x2="1061.60" y2="547.92" stroke="#222" stroke-width="1.2" />
<text x="1049.80" y="554.82" font-size="19.6" fill="#222" text-anchor="end">80</text>
<line x1="1054.60" y1="492.30" x2="1061.60" y2="492.30" stroke="#222" stroke-width="1.2" />
<text x="1049.80" y="499.20" font-size="19.6" fill="#222" text-anchor="end">100</text>
<line x1="1054.60" y1="436.68" x2="1061.60" y2="436.68" stroke="#222" stroke-width="1.2" />
<text x="1049.80" y="443.58" font-size="19.6" fill="#222" text-anchor="end">120</text>
<line x1="1101.50" y1="766.90" x2="1101.50" y2="771.40" stroke="#222" stroke-width="1.2" />
<line x1="1169.30" y1="766.90" x2="1169.30" y2="774.40" stroke="#222" stroke-width="1.2" />
<text x="1169.30" y="793.80" font-size="19.6" fill="#222" text-anchor="middle">600</text>
<line x1="1237.10" y1="766.90" x2="1237.10" y2="771.40" stroke="#222" stroke-width="1.2" />
<line x1="1304.90" y1="766.90" x2="1304.90" y2="774.40" stroke="#222" stroke-width="1.2" />
<text x="1304.90" y="793.80" font-size="19.6" fill="#222" text-anchor="middle">650</text>
<line x1="1372.70" y1="766.90" x2="1372.70" y2="771.40" stroke="#222" stroke-width="1.2" />
<line x1="1440.50" y1="766.90" x2="1440.50" y2="774.40" stroke="#222" stroke-width="1.2" />
<text x="1440.50" y="793.80" font-size="19.6" fill="#222" text-anchor="middle">700</text>
<line x1="1508.30" y1="766.90" x2="1508.30" y2="771.40" stroke="#222" stroke-width="1.2" />
<text x="1349.99" y="799.60" font-size="19.5" textLength="51.58" lengthAdjust="spacingAndGlyphs" fill="#222" stroke="#222" stroke-width="0.25">λ, nm</text>
<text x="1028.30" y="409.30" font-size="21" fill="#111" textLength="77.50" lengthAdjust="spacingAndGlyphs"><tspan font-style="italic">I</tspan><tspan font-size="12" dy="3.5">lum</tspan><tspan dy="-3.5">, rel.u</tspan></text>
<text x="1173.47" y="418.80" font-size="15.5" textLength="24.37" lengthAdjust="spacingAndGlyphs" fill="#2a2a2a">606</text>
<text x="1200.67" y="418.80" font-size="15.5" textLength="24.26" lengthAdjust="spacingAndGlyphs" fill="#2a2a2a">nm</text>
<text x="1197.10" y="447.80" font-size="15.5" textLength="7.77" lengthAdjust="spacingAndGlyphs" fill="#2a2a2a">6</text>
<text x="1205.22" y="447.80" font-size="15.5" textLength="16.05" lengthAdjust="spacingAndGlyphs" fill="#2a2a2a">14</text>
<text x="1223.89" y="447.80" font-size="15.5" textLength="23.70" lengthAdjust="spacingAndGlyphs" fill="#2a2a2a">nm</text>
<text x="1148.59" y="476.80" font-size="15.5" textLength="51.04" lengthAdjust="spacingAndGlyphs" fill="#2a2a2a" transform="rotate(-90 1149.20 476.80)">591 nm</text>
<text x="1261.54" y="615.60" font-size="15.5" textLength="50.47" lengthAdjust="spacingAndGlyphs" fill="#2a2a2a" transform="rotate(-90 1262.30 615.60)">633 nm</text>
<text x="1071.0" y="460.6" font-size="14.5" fill="#333" textLength="62.5" lengthAdjust="spacingAndGlyphs"><tspan font-size="8.5" dy="-6">5</tspan><tspan dy="6">D</tspan><tspan font-size="8.5" dy="4.5">0</tspan><tspan dy="-4.5" font-size="19"> → </tspan><tspan font-size="8.5" dy="-6">7</tspan><tspan dy="6">F</tspan><tspan font-size="8.5" dy="4.5">1</tspan></text>
<text x="1220.0" y="469.0" font-size="14.5" fill="#333" textLength="62.5" lengthAdjust="spacingAndGlyphs"><tspan font-size="8.5" dy="-6">5</tspan><tspan dy="6">D</tspan><tspan font-size="8.5" dy="4.5">0</tspan><tspan dy="-4.5" font-size="19"> → </tspan><tspan font-size="8.5" dy="-6">7</tspan><tspan dy="6">F</tspan><tspan font-size="8.5" dy="4.5">2</tspan></text>
<text x="1282.0" y="692.4" font-size="14.5" fill="#333" textLength="62.5" lengthAdjust="spacingAndGlyphs"><tspan font-size="8.5" dy="-6">5</tspan><tspan dy="6">D</tspan><tspan font-size="8.5" dy="4.5">0</tspan><tspan dy="-4.5" font-size="19"> → </tspan><tspan font-size="8.5" dy="-6">7</tspan><tspan dy="6">F</tspan><tspan font-size="8.5" dy="4.5">3</tspan></text>
<text x="1402.3" y="674.3" font-size="14.5" fill="#333" textLength="62.5" lengthAdjust="spacingAndGlyphs"><tspan font-size="8.5" dy="-6">5</tspan><tspan dy="6">D</tspan><tspan font-size="8.5" dy="4.5">0</tspan><tspan dy="-4.5" font-size="19"> → </tspan><tspan font-size="8.5" dy="-6">7</tspan><tspan dy="6">F</tspan><tspan font-size="8.5" dy="4.5">4</tspan></text>
<text x="1104.3" y="738.0" font-size="14.5" fill="#333" textLength="61.3" lengthAdjust="spacingAndGlyphs" transform="rotate(-90 1104.3 738.0)"><tspan font-size="8.5" dy="-6">5</tspan><tspan dy="6">D</tspan><tspan font-size="8.5" dy="4.5">0</tspan><tspan dy="-4.5" font-size="19"> → </tspan><tspan font-size="8.5" dy="-6">7</tspan><tspan dy="6">F</tspan><tspan font-size="8.5" dy="4.5">0</tspan></text>
<text x="1100.80" y="477.40" font-size="9.8" fill="#333" text-anchor="middle" textLength="46.70" lengthAdjust="spacingAndGlyphs">Magnetic</text>
<text x="1100.80" y="491.30" font-size="9.8" fill="#333" text-anchor="middle" textLength="30.00" lengthAdjust="spacingAndGlyphs">dipole</text>
<text x="1100.80" y="505.20" font-size="9.8" fill="#333" text-anchor="middle" textLength="46.70" lengthAdjust="spacingAndGlyphs">transition</text>
<text x="1251.20" y="490.30" font-size="9.8" fill="#333" text-anchor="middle" textLength="36.50" lengthAdjust="spacingAndGlyphs">Electric</text>
<text x="1251.20" y="504.20" font-size="9.8" fill="#333" text-anchor="middle" textLength="30.00" lengthAdjust="spacingAndGlyphs">dipole</text>
<text x="1251.20" y="518.10" font-size="9.8" fill="#333" text-anchor="middle" textLength="46.70" lengthAdjust="spacingAndGlyphs">transition</text>
<line x1="1112.00" y1="511.40" x2="1129.46" y2="531.47" stroke="#111" stroke-width="1" />
<path d="M1133.4,536.0 L1127.5,533.2 L1131.4,529.8 Z" fill="#111"/>
<line x1="1239.70" y1="524.60" x2="1222.60" y2="542.91" stroke="#111" stroke-width="1" />
<path d="M1218.5,547.3 L1220.7,541.1 L1224.5,544.7 Z" fill="#111"/>
<line x1="1417.20" y1="416.80" x2="1453.10" y2="416.80" stroke="#333" stroke-width="1.1" />
<text x="1457.81" y="422.60" font-size="18.6" textLength="38.51" lengthAdjust="spacingAndGlyphs" font-weight="bold">0.02</text>
<line x1="1417.20" y1="436.70" x2="1454.30" y2="436.70" stroke="#ee1c25" stroke-width="1.1" />
<text x="1457.81" y="442.60" font-size="18.6" textLength="38.20" lengthAdjust="spacingAndGlyphs" font-weight="bold">0.05</text>
<line x1="1416.00" y1="456.90" x2="1449.80" y2="456.90" stroke="#808000" stroke-width="2" stroke-dasharray="7.6 4.9 2.5 3.7 2.5 5.5"/>
<text x="1457.25" y="463.00" font-size="18.6" textLength="36.53" lengthAdjust="spacingAndGlyphs" font-weight="bold">0.07</text>
<line x1="1416.00" y1="476.80" x2="1455.20" y2="476.80" stroke="#0000e6" stroke-width="2.2" />
<text x="1456.87" y="482.40" font-size="18.6" textLength="25.29" lengthAdjust="spacingAndGlyphs" font-weight="bold">0.1</text>
<line x1="1416.00" y1="497.20" x2="1455.00" y2="497.20" stroke="#8a8a1c" stroke-width="2.6" />
<text x="1456.03" y="501.60" font-size="18.6" textLength="37.48" lengthAdjust="spacingAndGlyphs" font-weight="bold">0.15</text>
</g>
<g id="chem">
<text x="69.14" y="363.80" font-size="16" textLength="69.76" lengthAdjust="spacing" font-weight="bold">Terminal</text>
<text x="216.14" y="364.60" font-size="16" textLength="82.49" lengthAdjust="spacing" font-weight="bold">Tribridged</text>
<text x="96.25" y="405.20" font-size="16.4" textLength="24.98" lengthAdjust="spacingAndGlyphs" fill="#111" stroke="#111" stroke-width="0.45">OH</text>
<line x1="102.80" y1="415.20" x2="102.80" y2="432.50" stroke="#111" stroke-width="1.6" />
<text x="95.98" y="450.50" font-size="16.4" textLength="16.24" lengthAdjust="spacingAndGlyphs" fill="#111" stroke="#111" stroke-width="0.45">Zr</text>
<text x="253.76" y="391.40" font-size="16.4" textLength="13.03" lengthAdjust="spacingAndGlyphs" fill="#111" stroke="#111" stroke-width="0.45">H</text>
<line x1="259.10" y1="398.30" x2="259.10" y2="415.20" stroke="#111" stroke-width="1.6" />
<text x="254.32" y="432.50" font-size="16.4" textLength="11.81" lengthAdjust="spacingAndGlyphs" fill="#111" stroke="#111" stroke-width="0.45">O</text>
<line x1="253.80" y1="437.70" x2="237.30" y2="450.20" stroke="#111" stroke-width="1.6" />
<line x1="265.10" y1="437.70" x2="280.30" y2="449.20" stroke="#111" stroke-width="1.6" />
<line x1="259.10" y1="440.90" x2="259.10" y2="459.40" stroke="#111" stroke-width="1.6" />
<text x="223.40" y="462.60" font-size="16.4" textLength="15.71" lengthAdjust="spacingAndGlyphs" fill="#111" stroke="#111" stroke-width="0.45">Zr</text>
<text x="282.05" y="462.60" font-size="16.4" textLength="17.30" lengthAdjust="spacingAndGlyphs" fill="#111" stroke="#111" stroke-width="0.45">Zr</text>
<text x="253.49" y="477.40" font-size="16.4" textLength="16.14" lengthAdjust="spacingAndGlyphs" fill="#111" stroke="#111" stroke-width="0.45">Zr</text>
<text x="394.30" y="518.90" font-size="14.5" font-weight="bold" textLength="34.00" lengthAdjust="spacingAndGlyphs">ζ &lt; 0</text>
<text x="394.30" y="717.40" font-size="14.5" font-weight="bold" textLength="34.00" lengthAdjust="spacingAndGlyphs">ζ &gt; 0</text>
<text x="21.33" y="512.60" font-size="16.1" textLength="13.28" lengthAdjust="spacingAndGlyphs" fill="#e8000e" stroke="#e8000e" stroke-width="0.3">H</text>
<circle cx="45.0" cy="494.1" r="7.3" fill="#fff" stroke="#111" stroke-width="1.2"/>
<text x="40.02" y="498.89" font-size="14.5" font-weight="bold" textLength="9.95" lengthAdjust="spacingAndGlyphs" >+</text>
<circle cx="44.7" cy="525.4" r="7.3" fill="#fff" stroke="#111" stroke-width="1.2"/>
<text x="41.15" y="530.10" font-size="15" font-weight="bold" textLength="7.05" lengthAdjust="spacingAndGlyphs" >-</text>
<text x="23.40" y="543.90" font-size="16.1" textLength="12.04" lengthAdjust="spacingAndGlyphs" fill="#e8000e" stroke="#e8000e" stroke-width="0.3">O</text>
<line x1="36.20" y1="544.70" x2="57.50" y2="564.00" stroke="#111" stroke-width="1.3" />
<text x="60.88" y="575.70" font-size="16.1" textLength="16.24" lengthAdjust="spacingAndGlyphs" fill="#2f55a0" stroke="#2f55a0" stroke-width="0.3">Zr</text>
<line x1="55.40" y1="582.50" x2="35.70" y2="600.20" stroke="#111" stroke-width="1.3" />
<text x="21.60" y="611.40" font-size="16.1" textLength="12.15" lengthAdjust="spacingAndGlyphs" fill="#e8000e" stroke="#e8000e" stroke-width="0.3">O</text>
<line x1="78.70" y1="563.50" x2="98.30" y2="545.50" stroke="#111" stroke-width="1.3" />
<text x="102.40" y="543.60" font-size="16.1" textLength="12.15" lengthAdjust="spacingAndGlyphs" fill="#e8000e" stroke="#e8000e" stroke-width="0.3">O</text>
<line x1="115.40" y1="545.80" x2="136.60" y2="564.80" stroke="#111" stroke-width="1.3" />
<text x="140.40" y="578.50" font-size="16.1" textLength="15.82" lengthAdjust="spacingAndGlyphs" fill="#2f55a0" stroke="#2f55a0" stroke-width="0.3">Zr</text>
<line x1="78.30" y1="583.00" x2="100.90" y2="603.40" stroke="#111" stroke-width="1.3" />
<text x="102.38" y="614.10" font-size="16.1" textLength="12.49" lengthAdjust="spacingAndGlyphs" fill="#e8000e" stroke="#e8000e" stroke-width="0.3">O</text>
<line x1="116.00" y1="602.60" x2="136.90" y2="584.10" stroke="#111" stroke-width="1.3" />
<line x1="146.20" y1="583.30" x2="146.20" y2="601.00" stroke="#111" stroke-width="1.3" />
<text x="139.40" y="615.40" font-size="16.1" textLength="12.04" lengthAdjust="spacingAndGlyphs" fill="#e8000e" stroke="#e8000e" stroke-width="0.3">O</text>
<line x1="155.60" y1="564.00" x2="176.00" y2="545.50" stroke="#111" stroke-width="1.3" />
<text x="179.28" y="543.60" font-size="16.1" textLength="12.38" lengthAdjust="spacingAndGlyphs" fill="#e8000e" stroke="#e8000e" stroke-width="0.3">O</text>
<text x="176.46" y="504.50" font-size="16.1" textLength="13.03" lengthAdjust="spacingAndGlyphs" fill="#e8000e" stroke="#e8000e" stroke-width="0.3">H</text>
<line x1="184.00" y1="509.90" x2="184.00" y2="527.80" stroke="#111" stroke-width="1.3" />
<circle cx="199.1" cy="526.7" r="7.3" fill="#fff" stroke="#111" stroke-width="1.2"/>
<text x="195.55" y="531.40" font-size="15" font-weight="bold" textLength="7.05" lengthAdjust="spacingAndGlyphs" >-</text>
<line x1="186.10" y1="552.00" x2="186.10" y2="570.40" stroke="#111" stroke-width="1.3" />
<text x="179.98" y="588.90" font-size="16.1" textLength="16.45" lengthAdjust="spacingAndGlyphs" fill="#2f55a0" stroke="#2f55a0" stroke-width="0.3">Zr</text>
<line x1="154.60" y1="606.10" x2="175.20" y2="586.50" stroke="#111" stroke-width="1.3" />
<line x1="187.20" y1="592.90" x2="187.20" y2="611.10" stroke="#111" stroke-width="1.3" />
<text x="181.52" y="624.30" font-size="16.1" textLength="11.81" lengthAdjust="spacingAndGlyphs" fill="#e8000e" stroke="#e8000e" stroke-width="0.3">O</text>
<text x="208.19" y="517.40" font-size="16.1" textLength="13.67" lengthAdjust="spacingAndGlyphs" fill="#e8000e" stroke="#e8000e" stroke-width="0.3">H</text>
<circle cx="227.5" cy="499.2" r="7.3" fill="#fff" stroke="#111" stroke-width="1.2"/>
<text x="222.52" y="503.99" font-size="14.5" font-weight="bold" textLength="9.95" lengthAdjust="spacingAndGlyphs" >+</text>
<line x1="194.10" y1="545.00" x2="214.70" y2="563.70" stroke="#111" stroke-width="1.3" />
<text x="216.87" y="578.50" font-size="16.1" textLength="16.66" lengthAdjust="spacingAndGlyphs" fill="#2f55a0" stroke="#2f55a0" stroke-width="0.3">Zr</text>
<line x1="233.20" y1="563.70" x2="252.80" y2="546.80" stroke="#111" stroke-width="1.3" />
<text x="255.60" y="543.60" font-size="16.1" textLength="12.04" lengthAdjust="spacingAndGlyphs" fill="#e8000e" stroke="#e8000e" stroke-width="0.3">O</text>
<line x1="268.00" y1="545.50" x2="288.90" y2="564.50" stroke="#111" stroke-width="1.3" />
<text x="290.56" y="579.60" font-size="16.1" textLength="16.87" lengthAdjust="spacingAndGlyphs" fill="#2f55a0" stroke="#2f55a0" stroke-width="0.3">Zr</text>
<line x1="306.60" y1="564.80" x2="326.20" y2="547.10" stroke="#111" stroke-width="1.3" />
<text x="329.52" y="544.40" font-size="16.1" textLength="11.70" lengthAdjust="spacingAndGlyphs" fill="#e8000e" stroke="#e8000e" stroke-width="0.3">O</text>
<circle cx="350.0" cy="525.8" r="7.3" fill="#fff" stroke="#111" stroke-width="1.2"/>
<text x="346.45" y="530.50" font-size="15" font-weight="bold" textLength="7.05" lengthAdjust="spacingAndGlyphs" >-</text>
<text x="327.66" y="512.60" font-size="16.1" textLength="13.03" lengthAdjust="spacingAndGlyphs" fill="#e8000e" stroke="#e8000e" stroke-width="0.3">H</text>
<circle cx="350.0" cy="494.1" r="7.3" fill="#fff" stroke="#111" stroke-width="1.2"/>
<text x="345.02" y="498.89" font-size="14.5" font-weight="bold" textLength="9.95" lengthAdjust="spacingAndGlyphs" >+</text>
<line x1="308.20" y1="587.30" x2="329.90" y2="606.60" stroke="#111" stroke-width="1.3" />
<text x="333.50" y="617.00" font-size="16.1" textLength="12.15" lengthAdjust="spacingAndGlyphs" fill="#e8000e" stroke="#e8000e" stroke-width="0.3">O</text>
<line x1="289.20" y1="585.40" x2="266.90" y2="604.20" stroke="#111" stroke-width="1.3" />
<text x="256.40" y="617.00" font-size="16.1" textLength="12.04" lengthAdjust="spacingAndGlyphs" fill="#e8000e" stroke="#e8000e" stroke-width="0.3">O</text>
<line x1="234.30" y1="582.50" x2="255.20" y2="603.40" stroke="#111" stroke-width="1.3" />
<line x1="226.20" y1="584.90" x2="226.20" y2="602.60" stroke="#111" stroke-width="1.3" />
<text x="220.20" y="617.00" font-size="16.1" textLength="12.15" lengthAdjust="spacingAndGlyphs" fill="#e8000e" stroke="#e8000e" stroke-width="0.3">O</text>
<line x1="197.30" y1="584.90" x2="218.20" y2="605.00" stroke="#111" stroke-width="1.3" />
<text x="133.65" y="647.46" font-size="13.5" font-weight="bold" textLength="8.79" lengthAdjust="spacingAndGlyphs" stroke="#000" stroke-width="0.4">+</text>
<text x="142.49" y="648.90" font-size="16.1" textLength="21.51" lengthAdjust="spacingAndGlyphs" fill="#7c5f12" stroke="#7c5f12" stroke-width="0.3">Eu</text>
<circle cx="174.7" cy="638.3" r="8.6" fill="#fff" stroke="#111" stroke-width="1.2"/>
<text x="174.7" y="642.5" font-size="11" font-weight="bold" text-anchor="middle" font-family='"Liberation Serif", serif' stroke="#000" stroke-width="0.35" textLength="11.6" lengthAdjust="spacingAndGlyphs">3+</text>
<line x1="188.00" y1="635.30" x2="188.00" y2="696.00" stroke="#111" stroke-width="1.7" />
<path d="M184.5,689.8 L188,696.6 L191.5,689.8" stroke="#111" stroke-width="1.8" fill="none" stroke-linejoin="miter" stroke-linecap="round"/>
<path d="M173.6,650.5 C182,651 187,655 188,662 C188.5,670 190,675 194.5,675.9" stroke="#111" stroke-width="1" fill="none"/>
<path d="M197.2,675.9 L192.6,673.6 L192.6,678.2 Z" fill="#111"/>
<text x="202.82" y="680.70" font-size="15" font-weight="bold" textLength="6.53" lengthAdjust="spacingAndGlyphs" >-</text>
<text x="207.94" y="680.60" font-size="16.1" textLength="17.72" lengthAdjust="spacingAndGlyphs" fill="#2f55a0" stroke="#2f55a0" stroke-width="0.3">Zr</text>
<circle cx="236.7" cy="671.5" r="8.8" fill="#fff" stroke="#111" stroke-width="1.2"/>
<text x="236.7" y="675.7" font-size="11" font-weight="bold" text-anchor="middle" font-family='"Liberation Serif", serif' stroke="#000" stroke-width="0.35" textLength="11.6" lengthAdjust="spacingAndGlyphs">4+</text>
<text x="78.21" y="692.50" font-size="16.1" textLength="26.18" lengthAdjust="spacingAndGlyphs" fill="#e8000e" stroke="#e8000e" stroke-width="0.3">OH</text>
<circle cx="110.3" cy="672.1" r="7.3" fill="#fff" stroke="#111" stroke-width="1.2"/>
<text x="106.75" y="676.80" font-size="15" font-weight="bold" textLength="7.05" lengthAdjust="spacingAndGlyphs" >-</text>
<circle cx="123.4" cy="699.6" r="7.3" fill="#fff" stroke="#111" stroke-width="1.2"/>
<text x="118.42" y="704.38" font-size="14.5" font-weight="bold" textLength="9.95" lengthAdjust="spacingAndGlyphs" >+</text>
<text x="104.49" y="718.10" font-size="16.1" textLength="12.77" lengthAdjust="spacingAndGlyphs" fill="#e8000e" stroke="#e8000e" stroke-width="0.3">H</text>
<line x1="110.60" y1="734.00" x2="110.60" y2="726.60" stroke="#6e8fd0" stroke-width="0.9" />
<path d="M110.6,723.0 L108.6,727.6 L112.6,727.6 Z" fill="#4472c4"/>
<text x="104.41" y="748.50" font-size="16.1" textLength="11.92" lengthAdjust="spacingAndGlyphs" fill="#e8000e" stroke="#e8000e" stroke-width="0.3">O</text>
<line x1="100.90" y1="751.70" x2="81.20" y2="769.30" stroke="#111" stroke-width="1.3" />
<text x="59.12" y="782.90" font-size="16.1" textLength="22.64" lengthAdjust="spacingAndGlyphs" fill="#7c5f12" stroke="#7c5f12" stroke-width="0.3">Eu</text>
<line x1="57.50" y1="787.80" x2="37.30" y2="806.20" stroke="#111" stroke-width="1.3" />
<text x="23.41" y="817.20" font-size="16.1" textLength="11.92" lengthAdjust="spacingAndGlyphs" fill="#e8000e" stroke="#e8000e" stroke-width="0.3">O</text>
<line x1="80.30" y1="788.60" x2="101.60" y2="807.80" stroke="#111" stroke-width="1.3" />
<text x="104.42" y="819.10" font-size="16.1" textLength="11.70" lengthAdjust="spacingAndGlyphs" fill="#e8000e" stroke="#e8000e" stroke-width="0.3">O</text>
<line x1="118.10" y1="807.00" x2="138.50" y2="789.00" stroke="#111" stroke-width="1.3" />
<line x1="117.70" y1="751.70" x2="139.50" y2="770.90" stroke="#111" stroke-width="1.3" />
<text x="141.26" y="783.70" font-size="16.1" textLength="21.96" lengthAdjust="spacingAndGlyphs" fill="#7c5f12" stroke="#7c5f12" stroke-width="0.3">Eu</text>
<line x1="148.20" y1="789.40" x2="148.20" y2="807.00" stroke="#111" stroke-width="1.3" />
<text x="141.51" y="819.90" font-size="16.1" textLength="11.92" lengthAdjust="spacingAndGlyphs" fill="#e8000e" stroke="#e8000e" stroke-width="0.3">O</text>
<line x1="156.20" y1="810.60" x2="176.80" y2="792.10" stroke="#111" stroke-width="1.3" />
<text x="181.59" y="794.70" font-size="16.1" textLength="16.03" lengthAdjust="spacingAndGlyphs" fill="#2f55a0" stroke="#2f55a0" stroke-width="0.3">Zr</text>
<line x1="190.40" y1="799.00" x2="190.40" y2="816.70" stroke="#111" stroke-width="1.3" />
<text x="183.60" y="830.00" font-size="16.1" textLength="12.04" lengthAdjust="spacingAndGlyphs" fill="#e8000e" stroke="#e8000e" stroke-width="0.3">O</text>
<ellipse cx="188.2" cy="748.5" rx="27.8" ry="18.2" fill="none" stroke="#111" stroke-width="1.7" stroke-dasharray="8.5 5.4"/>
<text x="283.62" y="694.60" font-size="16.1" textLength="26.07" lengthAdjust="spacingAndGlyphs" fill="#e8000e" stroke="#e8000e" stroke-width="0.3">OH</text>
<circle cx="316.1" cy="674.5" r="7.3" fill="#fff" stroke="#111" stroke-width="1.2"/>
<text x="312.55" y="679.20" font-size="15" font-weight="bold" textLength="7.05" lengthAdjust="spacingAndGlyphs" >-</text>
<circle cx="274.0" cy="702.5" r="7.3" fill="#fff" stroke="#111" stroke-width="1.2"/>
<text x="269.02" y="707.28" font-size="14.5" font-weight="bold" textLength="9.95" lengthAdjust="spacingAndGlyphs" >+</text>
<text x="256.44" y="720.50" font-size="16.1" textLength="13.15" lengthAdjust="spacingAndGlyphs" fill="#e8000e" stroke="#e8000e" stroke-width="0.3">H</text>
<line x1="263.10" y1="734.00" x2="263.10" y2="726.60" stroke="#6e8fd0" stroke-width="0.9" />
<path d="M263.1,723.0 L261.1,727.6 L265.1,727.6 Z" fill="#4472c4"/>
<text x="257.52" y="748.50" font-size="16.1" textLength="11.81" lengthAdjust="spacingAndGlyphs" fill="#e8000e" stroke="#e8000e" stroke-width="0.3">O</text>
<line x1="254.70" y1="752.00" x2="234.60" y2="770.10" stroke="#111" stroke-width="1.3" />
<text x="219.18" y="784.80" font-size="16.1" textLength="16.24" lengthAdjust="spacingAndGlyphs" fill="#2f55a0" stroke="#2f55a0" stroke-width="0.3">Zr</text>
<line x1="270.00" y1="751.50" x2="291.70" y2="770.50" stroke="#111" stroke-width="1.3" />
<text x="292.69" y="785.30" font-size="16.1" textLength="21.62" lengthAdjust="spacingAndGlyphs" fill="#7c5f12" stroke="#7c5f12" stroke-width="0.3">Eu</text>
<line x1="310.20" y1="793.10" x2="331.90" y2="811.90" stroke="#111" stroke-width="1.3" />
<text x="335.50" y="822.30" font-size="16.1" textLength="12.04" lengthAdjust="spacingAndGlyphs" fill="#e8000e" stroke="#e8000e" stroke-width="0.3">O</text>
<line x1="289.80" y1="791.40" x2="269.70" y2="808.60" stroke="#111" stroke-width="1.3" />
<text x="258.30" y="822.30" font-size="16.1" textLength="12.15" lengthAdjust="spacingAndGlyphs" fill="#e8000e" stroke="#e8000e" stroke-width="0.3">O</text>
<line x1="236.20" y1="788.60" x2="257.90" y2="807.80" stroke="#111" stroke-width="1.3" />
<line x1="229.00" y1="791.00" x2="229.00" y2="807.80" stroke="#111" stroke-width="1.3" />
<text x="222.20" y="822.30" font-size="16.1" textLength="12.04" lengthAdjust="spacingAndGlyphs" fill="#e8000e" stroke="#e8000e" stroke-width="0.3">O</text>
<line x1="199.60" y1="791.00" x2="220.20" y2="810.20" stroke="#111" stroke-width="1.3" />
</g>
</svg>
</body>
</html>
